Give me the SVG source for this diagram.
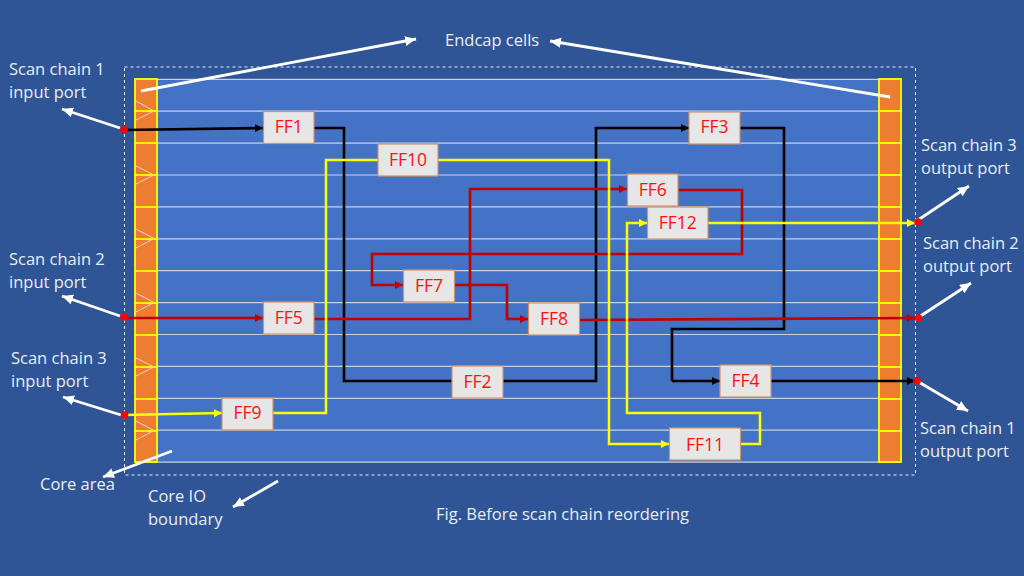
<svg xmlns="http://www.w3.org/2000/svg" width="1024" height="576" viewBox="0 0 1024 576">
<defs>
<marker id="ab" markerUnits="userSpaceOnUse" markerWidth="10" markerHeight="10" refX="8" refY="4" orient="auto"><path d="M0 0L8 4L0 8Z" fill="#000"/></marker>
<marker id="ar" markerUnits="userSpaceOnUse" markerWidth="10" markerHeight="10" refX="8" refY="4" orient="auto"><path d="M0 0L8 4L0 8Z" fill="#c00000"/></marker>
<marker id="ay" markerUnits="userSpaceOnUse" markerWidth="10" markerHeight="10" refX="8" refY="4" orient="auto"><path d="M0 0L8 4L0 8Z" fill="#ff0"/></marker>
<marker id="aw" markerUnits="userSpaceOnUse" markerWidth="14" markerHeight="12" refX="11" refY="5" orient="auto"><path d="M0 0L11 5L0 10Z" fill="#fff"/></marker>
</defs>
<style>
text{font-family:"Open Sans","Noto Sans","Liberation Sans",sans-serif}
.t{font-size:16.500px;fill:#e8edf5}
.ff rect{fill:#e7e6e6;stroke:#d0926a;stroke-width:1.2}
.ff text{font-size:17.500px;fill:#ff1010;text-anchor:middle}
.row{stroke:#c5d0e8;stroke-width:1.2}
.cap{fill:#ed7d31;stroke:#ff0;stroke-width:1.8}
.tri{fill:none;stroke:#f4d8c6;stroke-width:1}
.b,.r,.y,.w{fill:none}
.b{stroke:#000;stroke-width:2.600}
.r{stroke:#c00000;stroke-width:2.600}
.y{stroke:#ff0;stroke-width:2.500}
.w{stroke:#fff;stroke-width:2.800}
.pt{fill:#f00}
</style>
<rect width="1024" height="576" fill="#2f5597"/>
<g id="core">
<rect x="135" y="79.300" width="766" height="382.800" fill="#4472c4"/>
<g class="row">
<path d="M135 79.300H901M135 111.200H901M135 143.100H901M135 175H901M135 206.900H901M135 238.800H901M135 270.700H901M135 302.600H901M135 334.500H901M135 366.400H901M135 398.300H901M135 430.200H901M135 462.100H901"/>
</g>
</g>
<rect id="boundary" x="124.500" y="67" width="791" height="408" fill="none" stroke="#e6ebf5" stroke-width="1" stroke-dasharray="3 3"/>
<g id="endcap-left">
<rect class="cap" x="135" y="79" width="22" height="32"/><rect class="cap" x="135" y="111" width="22" height="32"/><rect class="cap" x="135" y="143" width="22" height="32"/><rect class="cap" x="135" y="175" width="22" height="32"/><rect class="cap" x="135" y="207" width="22" height="32"/><rect class="cap" x="135" y="239" width="22" height="32"/><rect class="cap" x="135" y="271" width="22" height="32"/><rect class="cap" x="135" y="303" width="22" height="32"/><rect class="cap" x="135" y="335" width="22" height="32"/><rect class="cap" x="135" y="367" width="22" height="32"/><rect class="cap" x="135" y="399" width="22" height="32"/><rect class="cap" x="135" y="431" width="22" height="31"/>
<path class="tri" d="M136 101L154 111L136 120M136 166L154 175L136 184M136 229L154 238.500L136 248M136 293L154 302.500L136 312M136 358L154 367L136 376M136 421L154 430.500L136 440"/>
</g>
<g id="endcap-right">
<rect class="cap" x="879" y="79" width="22" height="32"/><rect class="cap" x="879" y="111" width="22" height="32"/><rect class="cap" x="879" y="143" width="22" height="32"/><rect class="cap" x="879" y="175" width="22" height="32"/><rect class="cap" x="879" y="207" width="22" height="32"/><rect class="cap" x="879" y="239" width="22" height="32"/><rect class="cap" x="879" y="271" width="22" height="32"/><rect class="cap" x="879" y="303" width="22" height="32"/><rect class="cap" x="879" y="335" width="22" height="32"/><rect class="cap" x="879" y="367" width="22" height="32"/><rect class="cap" x="879" y="399" width="22" height="32"/><rect class="cap" x="879" y="431" width="22" height="31"/>
</g>
<g id="connectors">
<path class="b" marker-end="url(#ab)" d="M124 130L263 128"/>
<path class="b" d="M314 128H344V381H452"/>
<path class="b" marker-end="url(#ab)" d="M503 381H596V128H689"/>
<path class="b" d="M740 128H784V329H672V381"/>
<path class="b" marker-end="url(#ab)" d="M672 381L720 381"/>
<path class="b" marker-end="url(#ab)" d="M771 381H915"/>
<path class="r" marker-end="url(#ar)" d="M124 318H263"/>
<path class="r" marker-end="url(#ar)" d="M314 319H470V189H627"/>
<path class="r" marker-end="url(#ar)" d="M678 190H742V254H372V285H403"/>
<path class="r" marker-end="url(#ar)" d="M455 285H507V319H528"/>
<path class="r" marker-end="url(#ar)" d="M579 320L915 318"/>
<path class="y" marker-end="url(#ay)" d="M124 415L222 413"/>
<path class="y" d="M273 413H326V160H378"/>
<path class="y" marker-end="url(#ay)" d="M438 160H609V444H669"/>
<path class="y" marker-end="url(#ay)" d="M740 444H760V413H627V223H647"/>
<path class="y" marker-end="url(#ay)" d="M708 223H915"/>
<g id="callouts">
<path class="w" marker-end="url(#aw)" d="M141 91L416 39"/>
<path class="w" marker-end="url(#aw)" d="M890 97L550 41"/>
<path class="w" marker-end="url(#aw)" d="M120 128L62 109"/>
<path class="w" marker-end="url(#aw)" d="M120 316L62 296"/>
<path class="w" marker-end="url(#aw)" d="M121 415L63 397"/>
<path class="w" marker-end="url(#aw)" d="M172 451L103 477"/>
<path class="w" marker-end="url(#aw)" d="M278 481L233 507"/>
<path class="w" marker-end="url(#aw)" d="M915 222L969 186"/>
<path class="w" marker-end="url(#aw)" d="M919 317L971 283"/>
<path class="w" marker-end="url(#aw)" d="M917 381L968 411"/>
</g>
<circle class="pt" cx="124" cy="129.500" r="3.800"/><circle class="pt" cx="124" cy="317" r="3.800"/><circle class="pt" cx="124.500" cy="415" r="3.800"/>
<circle class="pt" cx="918" cy="222" r="3.800"/><circle class="pt" cx="918.500" cy="318" r="3.800"/><circle class="pt" cx="917" cy="381" r="3.800"/>
</g>
<g id="FF1" class="ff"><rect x="263.500" y="111.500" width="50.500" height="32"/><text x="288.700" y="133">FF1</text></g>
<g id="FF2" class="ff"><rect x="452" y="366" width="51" height="32"/><text x="477.500" y="388">FF2</text></g>
<g id="FF3" class="ff"><rect x="689" y="112" width="51" height="32"/><text x="714.500" y="133">FF3</text></g>
<g id="FF4" class="ff"><rect x="720" y="365" width="51" height="32"/><text x="745.500" y="387">FF4</text></g>
<g id="FF5" class="ff"><rect x="263.500" y="302" width="50.500" height="32"/><text x="288.700" y="324">FF5</text></g>
<g id="FF6" class="ff"><rect x="627.500" y="174" width="50.500" height="32"/><text x="652.700" y="196">FF6</text></g>
<g id="FF7" class="ff"><rect x="403.500" y="270" width="51" height="32"/><text x="429" y="292">FF7</text></g>
<g id="FF8" class="ff"><rect x="528.500" y="303" width="51" height="32"/><text x="554" y="325">FF8</text></g>
<g id="FF9" class="ff"><rect x="222" y="398" width="51" height="32"/><text x="247.500" y="419">FF9</text></g>
<g id="FF10" class="ff"><rect x="378" y="144" width="60" height="32"/><text x="408" y="166">FF10</text></g>
<g id="FF11" class="ff"><rect x="669.500" y="428" width="71" height="32"/><text x="705" y="451">FF11</text></g>
<g id="FF12" class="ff"><rect x="647.500" y="207" width="60.500" height="32"/><text x="677.700" y="229">FF12</text></g>
<g id="labels">
<text class="t" x="445" y="46">Endcap cells</text>
<text class="t" x="9" y="75">Scan chain 1</text><text class="t" x="9" y="98">input port</text>
<text class="t" x="9" y="265">Scan chain 2</text><text class="t" x="9" y="288">input port</text>
<text class="t" x="11" y="364">Scan chain 3</text><text class="t" x="11" y="387">input port</text>
<text class="t" x="40" y="490">Core area</text>
<text class="t" x="148" y="502">Core IO</text><text class="t" x="148" y="525">boundary</text>
<text class="t" x="921" y="151">Scan chain 3</text><text class="t" x="921" y="174">output port</text>
<text class="t" x="923" y="249">Scan chain 2</text><text class="t" x="923" y="272">output port</text>
<text class="t" x="920" y="434">Scan chain 1</text><text class="t" x="920" y="457">output port</text>
<text class="t" x="436" y="520">Fig. Before scan chain reordering</text>
</g>
</svg>
